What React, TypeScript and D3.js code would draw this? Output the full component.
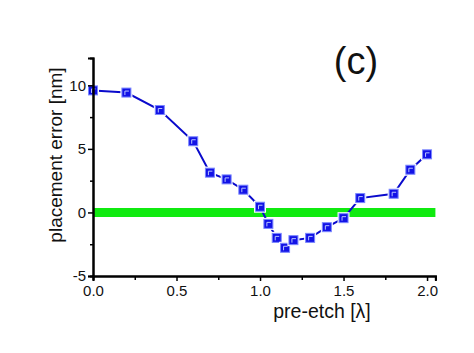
import React from 'react';
import { select, scaleLinear, axisBottom, axisLeft, line } from 'd3';

const preEtch = [0, 0.2, 0.4, 0.6, 0.7, 0.8, 0.9, 1.0, 1.05, 1.1, 1.15, 1.2, 1.3, 1.4, 1.5, 1.6, 1.8, 1.9, 2.0];
const placementError = [9.6, 9.43, 8.06, 5.6, 3.13, 2.6, 1.79, 0.45, -0.9, -2.0, -2.78, -2.18, -2.0, -1.16, -0.45, 1.13, 1.47, 3.36, 4.57];
const xTicks = [0, 0.5, 1.0, 1.5, 2.0];
const yTicks = [-5, 0, 5, 10];
const referenceLevel = 0;

const W = 474;
const H = 353;
const FONT = 'Liberation Sans, Arial, Helvetica, sans-serif';

export default function App() {
  const xAxisRef = React.useRef<SVGGElement>(null);
  const yAxisRef = React.useRef<SVGGElement>(null);

  const x = scaleLinear().domain([0, 2.05]).range([93, 435.4]);
  const y = scaleLinear().domain([-5, 12.15]).range([276, 58]);

  React.useEffect(() => {
    const xa = select(xAxisRef.current);
    xa.selectAll('*').remove();
    // minor ticks
    xa.call(
      axisBottom(x)
        .tickValues([0.25, 0.75, 1.25, 1.75])
        .tickSize(4)
        .tickFormat(() => '') as any
    );
    xa.append('g').call(
      axisBottom(x)
        .tickValues(xTicks)
        .tickSize(5)
        .tickPadding(4)
        .tickFormat(v => (+v).toFixed(1)) as any
    );
    xa.selectAll('.domain').attr('stroke-width', 2);
    xa.selectAll('.tick line').attr('stroke-width', 1.5);
    xa.selectAll('text').attr('font-family', FONT).attr('font-size', 15).attr('fill', '#111');

    const ya = select(yAxisRef.current);
    ya.selectAll('*').remove();
    ya.call(
      axisLeft(y)
        .tickValues([-2.5, 2.5, 7.5])
        .tickSize(3)
        .tickFormat(() => '') as any
    );
    ya.append('g').call(
      axisLeft(y)
        .tickValues(yTicks)
        .tickSize(5)
        .tickPadding(2)
        .tickFormat(v => String(v)) as any
    );
    ya.selectAll('.domain').attr('stroke-width', 2);
    ya.selectAll('.tick line').attr('stroke-width', 1.5);
    ya.selectAll('text').attr('font-family', FONT).attr('font-size', 15).attr('fill', '#111');
  }, []);

  const pts = preEtch.map((v, i) => [x(v), y(placementError[i])] as [number, number]);
  const path = line()(pts) || '';

  return (
    <svg width={W} height={H} style={{ position: 'absolute', left: 0, top: 0, background: '#fff' }}>
      <rect width={W} height={H} fill="#fff" />
      <line
        x1={x(0)}
        x2={x(2.05)}
        y1={y(referenceLevel)}
        y2={y(referenceLevel)}
        stroke="#10ea10"
        strokeWidth={9}
      />
      <path d={path} fill="none" stroke="#0a0acc" strokeWidth={2} />
      {pts.map(([px, py], i) => (
        <g key={i} transform={`translate(${px},${py})`}>
          <rect x={-6} y={-6} width={12} height={12} fill="#fff" />
          <rect x={-4.5} y={-4.5} width={9} height={9} fill="#1212e6" stroke="#7a86ff" strokeWidth={1} />
          <path d="M-1.5,2.5 V-1.5 H2.5" fill="none" stroke="#b8c4ff" strokeWidth={1} />
        </g>
      ))}
      <g ref={xAxisRef} transform={`translate(0,${y(-5)})`} />
      <g ref={yAxisRef} transform={`translate(${x(0)},0)`} />
      <text x={57} y={155} transform="rotate(-90,57,155)" textAnchor="middle" dominantBaseline="middle"
        fontFamily={FONT} fontSize={19} fill="#111">
        placement error [nm]
      </text>
      <text x={322} y={318} textAnchor="middle" fontFamily={FONT} fontSize={19.5} fill="#111">
        pre-etch [λ]
      </text>
      <text x={356} y={74} textAnchor="middle" fontFamily={FONT} fontSize={38} fill="#111">
        (c)
      </text>
    </svg>
  );
}
